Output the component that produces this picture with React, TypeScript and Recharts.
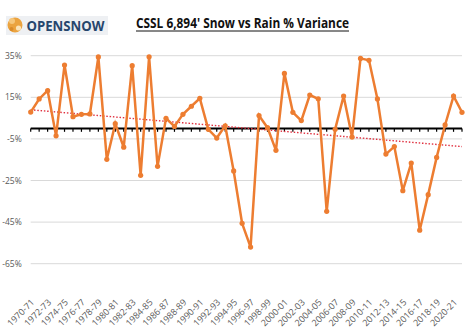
import React from "react";
import {
  LineChart,
  Line,
  XAxis,
  YAxis,
  CartesianGrid,
  ReferenceLine,
} from "recharts";

// seasons on the category axis
const seasons = [
  "1970-71", "1971-72", "1972-73", "1973-74", "1974-75", "1975-76", "1976-77", "1977-78",
  "1978-79", "1979-80", "1980-81", "1981-82", "1982-83", "1983-84", "1984-85", "1985-86",
  "1986-87", "1987-88", "1988-89", "1989-90", "1990-91", "1991-92", "1992-93", "1993-94",
  "1994-95", "1995-96", "1996-97", "1997-98", "1998-99", "1999-00", "2000-01", "2001-02",
  "2002-03", "2003-04", "2004-05", "2005-06", "2006-07", "2007-08", "2008-09", "2009-10",
  "2010-11", "2011-12", "2012-13", "2013-14", "2014-15", "2015-16", "2016-17", "2017-18",
  "2018-19", "2019-20", "2020-21", "2021-22",
];

// snow vs rain % variance per season
const variance = [
  7.9, 14.2, 18.2, -3.5, 30.5, 5.7, 6.8, 7.0, 34.4, -14.8,
  2.3, -9.0, 30.2, -22.5, 34.5, -18.2, 4.9, 1.0, 6.8, 10.7,
  14.5, -0.4, -4.6, 1.3, -20.4, -45.6, -57.0, 6.2, 0.4, -10.5,
  26.5, 7.8, 3.8, 16.1, 14.3, -39.8, -0.4, 15.6, -4.1, 33.7,
  32.8, 14.2, -12.3, -8.7, -29.9, -16.6, -48.9, -31.8, -13.9, 1.7,
  15.6, 7.8,
];

const yTicks = [35, 15, -5, -25, -45, -65];

// linear trendline end values
const trendStart = 9.0;
const trendEnd = -8.7;

const data = seasons.map((s, i) => ({ season: s, value: variance[i] }));

const FONT = "'Open Sans', 'Noto Sans', sans-serif";

const XTick = (props: any) => {
  const { x, y, payload } = props;
  return (
    <g transform={`translate(${x + 2},${y + 37})`}>
      <text
        textAnchor="end"
        transform="rotate(-45)"
        fontSize={9}
        fill="#595959"
        fontFamily={FONT}
        dy="0.35em"
      >
        {payload.value}
      </text>
    </g>
  );
};

const Header = () => (
  <svg
    width={474}
    height={45}
    style={{ position: "absolute", top: 0, left: 0 }}
  >
    <rect x={6} y={16} width={102} height={19} fill="#eef0f3" />
    {/* little orange logo mark */}
    <circle cx={15} cy={25} r={7.5} fill="#eba33f" />
    <circle cx={12} cy={21} r={3} fill="#f6c77c" />
    <circle cx={18.5} cy={28} r={2.6} fill="#fbe3b8" />
    <circle cx={11.5} cy={29} r={2} fill="#d98a2a" />
    <text
      x={26.5}
      y={30.5}
      fontSize={14.5}
      fontWeight="bold"
      fill="#26466d"
      fontFamily={FONT}
      textLength={78}
      lengthAdjust="spacingAndGlyphs"
    >
      OPENSNOW
    </text>
    <text
      x={136}
      y={28}
      fontSize={14}
      fontWeight="bold"
      fill="#111"
      fontFamily={FONT}
      textLength={213}
      lengthAdjust="spacingAndGlyphs"
    >
      CSSL 6,894' Snow vs Rain % Variance
    </text>
    <line x1={136} x2={349} y1={31} y2={31} stroke="#111" strokeWidth={1} />
  </svg>
);

export default function App() {
  return (
    <div
      style={{
        position: "absolute",
        top: 0,
        left: 0,
        width: 474,
        height: 331,
        background: "#fff",
      }}
    >
      <Header />
      <LineChart
        width={474}
        height={331}
        data={data}
        margin={{ top: 55.7, right: 12, left: 0, bottom: 0 }}
      >
        <CartesianGrid vertical={false} stroke="#d9d9d9" strokeWidth={1} />
        <XAxis
          dataKey="season"
          interval={1}
          height={67.3}
          axisLine={false}
          tickLine={false}
          tickSize={0}
          tickMargin={0}
          tick={<XTick />}
        />
        <YAxis
          domain={[-65, 35]}
          ticks={yTicks}
          width={30.7}
          axisLine={false}
          tickLine={false}
          tickSize={0}
          tickMargin={9}
          tickFormatter={(v: number) => `${v}%`}
          tick={{ fontSize: 8.5, fill: "#595959", fontFamily: FONT }}
        />
        <ReferenceLine y={0} stroke="#000" strokeWidth={2} />
        {seasons.map((s) => (
          <ReferenceLine
            key={s}
            segment={[
              { x: s, y: 0 },
              { x: s, y: -1.6 },
            ]}
            stroke="#000"
            strokeWidth={1.2}
          />
        ))}
        <ReferenceLine
          segment={[
            { x: seasons[0], y: trendStart },
            { x: seasons[seasons.length - 1], y: trendEnd },
          ]}
          stroke="#e0303f"
          strokeWidth={1.4}
          strokeDasharray="1.5 1.8"
        />
        <Line
          type="linear"
          dataKey="value"
          stroke="#ed7d31"
          strokeWidth={2.5}
          dot={{ r: 2.6, fill: "#ed7d31", stroke: "#ed7d31", strokeWidth: 0 }}
          isAnimationActive={false}
        />
      </LineChart>
    </div>
  );
}
